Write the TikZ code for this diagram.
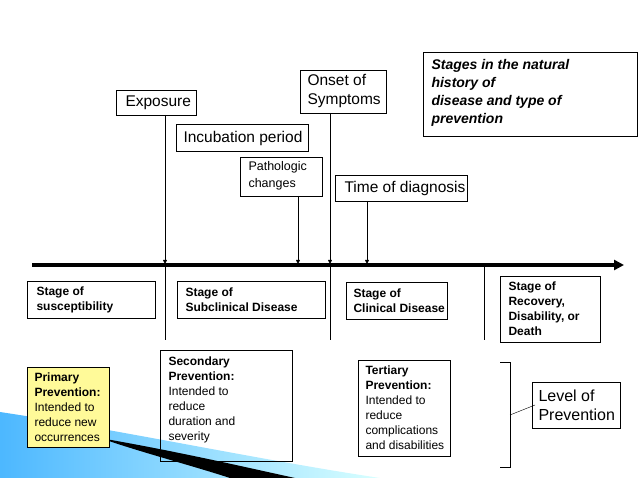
\documentclass[tikz,border=0pt]{standalone}
\usepackage{fontspec}
\setmainfont{Liberation Sans}
\begin{document}
\begin{tikzpicture}[x=1pt,y=-1pt,
  bx/.style={draw,thick,inner sep=0pt,align=left,text width=#1},
  bx/.default=0pt,
  sm/.style={font=\fontsize{12}{15}\selectfont},
  lg/.style={font=\fontsize{15.5}{19}\selectfont},
  ar/.style={-{Latex[length=5pt,width=4pt]},thin}]
\usetikzlibrary{arrows.meta}
\useasboundingbox (0,0) rectangle (638,478);
% decoration
\shade[left color=cyan!60!blue!70,right color=cyan!15] (0,412) .. controls (120,430) and (260,460) .. (380,478) -- (0,478) -- cycle;
\fill[black] (100,438) .. controls (180,452) and (240,466) .. (295,478) -- (230,478) .. controls (190,465) and (140,452) .. cycle;
% boxes top
\draw[thick] (116,90) rectangle (196,115);
\node[lg,anchor=west] (exp) at (122,103) {Exposure};
\draw[thick] (176,124) rectangle (308,151);
\node[lg,anchor=west] (inc) at (180,138) {Incubation period};
\draw[thick] (300,70) rectangle (386,113);
\node[lg,anchor=west,align=left] (ons) at (304,91) {Onset of\\Symptoms};
\draw[thick] (240,157) rectangle (322,196);
\node[font=\fontsize{12.5}{17}\selectfont,anchor=west,align=left] (pat) at (245,176) {Pathologic\\changes};
\draw[thick] (335,175) rectangle (467,201);
\node[lg,anchor=west] (tod) at (341,188) {Time of diagnosis};
\draw[thick] (423,52) rectangle (637,136);
\node[font=\fontsize{14}{18}\bfseries\itshape,anchor=north west,align=left] (ttl) at (428,56) {Stages in the natural\\history of\\disease and type of\\prevention};
% timeline
\coordinate (t0) at (32,265); \coordinate (t1) at (624,265);
\draw[line width=3.5pt,-{Triangle[length=10pt,width=10pt]}] (t0) -- (t1);
\coordinate (e0) at (165,115); \coordinate (e1) at (165,265); \coordinate (e2) at (165,340);
\draw[ar] (e0) -- (e1); \draw (e1) -- (e2);
\coordinate (o0) at (330,113); \coordinate (o1) at (330,265); \coordinate (o2) at (330,340);
\draw[ar] (o0) -- (o1); \draw (o1) -- (o2);
\coordinate (p0) at (298,196); \coordinate (p1) at (298,265); \draw[ar] (p0) -- (p1);
\coordinate (d0) at (367,201); \coordinate (d1) at (367,265); \draw[ar] (d0) -- (d1);
\coordinate (r0) at (484,265); \coordinate (r1) at (484,340); \draw (r0) -- (r1);
% stages
\draw (27,281) rectangle (155,318);
\node[sm,font=\fontsize{12}{15}\bfseries,anchor=west,align=left] (s1) at (33,299.5) {Stage of\\susceptibility};
\draw (177,281) rectangle (325,318);
\node[font=\fontsize{12}{15}\bfseries,anchor=west,align=left] (s2) at (182,299.5) {Stage of\\Subclinical Disease};
\draw (346,282) rectangle (447,319);
\node[font=\fontsize{12}{15}\bfseries,anchor=west,align=left] (s3) at (350,300.5) {Stage of\\Clinical Disease};
\draw (500,276) rectangle (600,342);
\node[font=\fontsize{12}{15}\bfseries,anchor=west,align=left] (s4) at (505,309) {Stage of\\Recovery,\\Disability, or\\Death};
% prevention
\draw[fill=yellow!40] (27,367) rectangle (109,447);
\node[sm,anchor=west,align=left] (pp) at (31,407) {\textbf{Primary}\\\textbf{Prevention:}\\Intended to\\reduce new\\occurrences};
\draw (160,350) rectangle (292,461);
\node[sm,anchor=north west,align=left] (sp) at (165,353) {\textbf{Secondary}\\\textbf{Prevention:}\\Intended to\\reduce\\duration and\\severity};
\draw (358,360) rectangle (450,456);
\node[sm,anchor=west,align=left] (tp) at (362,408) {\textbf{Tertiary}\\\textbf{Prevention:}\\Intended to\\reduce\\complications\\and disabilities};
% bracket
\coordinate (b0) at (500,362); \coordinate (b1) at (510,362); \coordinate (b2) at (510,467); \coordinate (b3) at (500,467); \coordinate (bm) at (510,415);
\draw (b0) -- (b1) -- (b2) -- (b3);
\draw (532,382) rectangle (620,428);
\node[font=\fontsize{16}{19}\selectfont,anchor=west,align=left] (lv) at (535,405) {Level of\\Prevention};
\draw (bm) -- (lv.west);
\end{tikzpicture}
\end{document}
